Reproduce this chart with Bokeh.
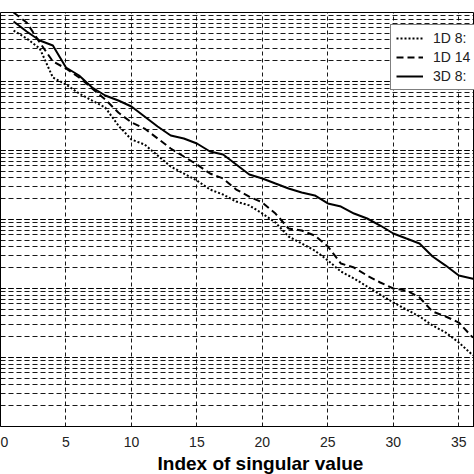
from bokeh.plotting import figure
from bokeh.embed import file_html
from bokeh.resources import INLINE
from bokeh.models import Title, Legend, LegendItem, FixedTicker, Range1d

index = list(range(1, 38))

sv_1d_8 = [0.548, 0.420, 0.301, 0.1143, 0.0905, 0.0670, 0.0530, 0.0420, 0.0230, 0.01443,
           0.01222, 0.00846, 0.00586, 0.00464, 0.00367, 0.00272, 0.00230, 0.00182, 0.00160, 0.00122,
           0.000905, 0.000567, 0.000449, 0.000355, 0.000255, 0.000176, 0.0001396, 0.0001069, 0.0000818, 0.0000627,
           0.0000496, 0.0000393, 0.0000291, 0.0000230, 0.0000165, 0.0000111, 0.0000087]

sv_1d_14 = [1.0, 0.716, 0.367, 0.195, 0.1543, 0.1143, 0.0792, 0.0548, 0.0355, 0.0255,
            0.0208, 0.01492, 0.01069, 0.00818, 0.00627, 0.00464, 0.00393, 0.00272, 0.00215, 0.00176,
            0.00122, 0.000741, 0.000693, 0.000586, 0.000406, 0.000230, 0.000201, 0.000154, 0.0001222, 0.000100,
            0.0000935, 0.0000741, 0.0000464, 0.0000393, 0.0000321, 0.0000201, 0.0000160]

sv_3d_8 = [0.741, 0.530, 0.393, 0.332, 0.1595, 0.1222, 0.0818, 0.0627, 0.0530, 0.0434,
           0.0311, 0.0223, 0.0165, 0.01492, 0.01263, 0.00967, 0.00875, 0.00627, 0.00449, 0.00393,
           0.00332, 0.00281, 0.00246, 0.00223, 0.00171, 0.00154, 0.00122, 0.001034, 0.000818, 0.000627,
           0.000530, 0.000449, 0.000291, 0.000215, 0.000154, 0.0001396, 0.0001263]

series_labels = ["1D 8:", "1D 14", "3D 8:"]
x_ticks = [0, 5, 10, 15, 20, 25, 30, 35]
x_label = "Index of singular value"

p = figure(frame_width=474, frame_height=414, y_axis_type="log", y_axis_location=None,
           x_range=Range1d(0, 36.2), y_range=Range1d(1e-6, 1.0),
           output_backend="svg", toolbar_location=None,
           min_border_left=0, min_border_right=0, min_border_top=12, min_border_bottom=0,
           background_fill_color="white", border_fill_color="white")

p.outline_line_color = "black"
p.outline_line_width = 1

xa = p.xaxis[0]
xa.ticker = FixedTicker(ticks=x_ticks)
xa.major_tick_in = 0
xa.major_tick_out = 0
xa.minor_tick_in = 0
xa.minor_tick_out = 0
xa.axis_line_color = "black"
xa.major_label_text_font = "Liberation Sans"
xa.major_label_text_font_size = "14px"
xa.major_label_text_color = "#222222"
xa.major_label_standoff = 10

p.xgrid.grid_line_color = "black"
p.xgrid.grid_line_dash = "4 3"
p.xgrid.grid_line_width = 1
p.xgrid.grid_line_alpha = 0.9
p.ygrid.grid_line_color = "black"
p.ygrid.grid_line_dash = "5 3"
p.ygrid.grid_line_width = 1
p.ygrid.grid_line_alpha = 0.9
p.ygrid.minor_grid_line_color = "black"
p.ygrid.minor_grid_line_dash = "5 3"
p.ygrid.minor_grid_line_width = 1
p.ygrid.minor_grid_line_alpha = 0.9

r1 = p.line(index, sv_1d_8, line_color="black", line_width=2, line_dash="2 2")
r2 = p.line(index, sv_1d_14, line_color="black", line_width=2, line_dash="7 4")
r3 = p.line(index, sv_3d_8, line_color="black", line_width=2)

legend = Legend(items=[LegendItem(label=series_labels[0], renderers=[r1]),
                       LegendItem(label=series_labels[1], renderers=[r2]),
                       LegendItem(label=series_labels[2], renderers=[r3])],
                location=(390, 336), padding=5, spacing=3, margin=0,
                glyph_width=27, glyph_height=16, label_height=16, label_standoff=10,
                label_text_font="Liberation Sans", label_text_font_size="14px",
                label_text_color="#222222",
                border_line_color="black", border_line_width=1,
                background_fill_color="white", background_fill_alpha=1.0)
p.add_layout(legend, "center")

t = Title(text=x_label, align="left", offset=157, text_font="Liberation Sans",
          text_font_style="bold", text_font_size="19px", text_color="black", standoff=2)
p.add_layout(t, "below")

open("out.html", "w").write(file_html(p, INLINE))
